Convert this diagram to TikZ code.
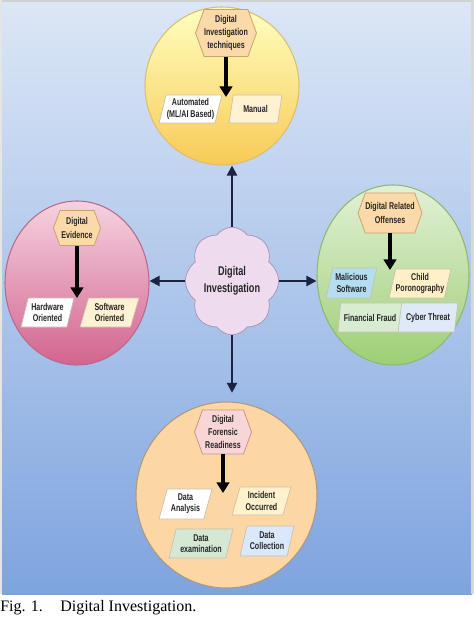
\documentclass[tikz,border=0pt]{standalone}
\usepackage{fontspec}
\setmainfont{Liberation Serif}
\newfontfamily\narb[FakeStretch=0.72]{Liberation Sans Bold}
\usetikzlibrary{shapes.geometric,shapes.symbols,arrows.meta}
\definecolor{bgtop}{HTML}{DCE7F6}
\definecolor{bgbot}{HTML}{7EA4DF}
\definecolor{navy}{HTML}{1C2340}
\definecolor{hexpeach}{HTML}{FCD9A8}
\definecolor{hexedge}{HTML}{C9A36A}
\definecolor{cream}{HTML}{FFF2D2}
\definecolor{paraedge}{HTML}{C8C0B0}
\def\u{0.75pt}
\tikzset{
  x=0.75pt, y=-0.75pt,
  bigcirc/.style={ellipse, draw, line width=0.8pt, inner sep=0},
  hexa/.style={signal, signal to=east and west, signal pointer angle=140,
    draw=hexedge, fill=hexpeach, line width=0.6pt, inner sep=0, align=center,
    font=\narb\fontsize{7.4}{10}\selectfont, text=black!85},
  para/.style={trapezium, trapezium left angle=72, trapezium right angle=108,
    trapezium stretches=true, draw=paraedge, line width=0.5pt, inner sep=0,
    align=center, font=\narb\fontsize{7.4}{8.4}\selectfont, text=black!85},
  inarrow/.style={line width=3pt, -{Triangle[width=9.5pt,length=8pt]}, black},
  conn/.style={line width=1.6pt, navy, -{Triangle[width=7.5pt,length=7.5pt]}},
}
\begin{document}
\begin{tikzpicture}
\useasboundingbox (0,0) rectangle (474,617);
% background
\shade[top color=bgtop, bottom color=bgbot] (2,0) rectangle (472,594);
\fill[black!18] (0,0) rectangle (474,2);
\fill[black!10] (0,0) rectangle (2,594);
\fill[black!15] (471,0) rectangle (474,594);

% top circle
\node[bigcirc, top color=yellow!25!white, bottom color={rgb,255:red,248;green,202;blue,86}, draw={rgb,255:red,222;green,190;blue,110},
  minimum width=154*\u, minimum height=158*\u] (c1) at (222,86) {};
\node[hexa, minimum width=55*\u, minimum height=47*\u] (h1) at (226,33) {Digital\\Investigation\\techniques};
\coordinate (t1) at (226,97);
\draw[inarrow] (h1.south) -- (h1.south |- t1);
\node[para, fill=white, minimum width=63*\u, minimum height=28*\u] (p1a) at (190.5,109) {Automated\\(ML/AI Based)};
\node[para, fill=cream, minimum width=53*\u, minimum height=28*\u] (p1b) at (255.5,109) {Manual};

% left circle
\node[bigcirc, top color={rgb,255:red,245;green,210;blue,224}, bottom color={rgb,255:red,211;green,100;blue,143}, draw={rgb,255:red,184;green,106;blue,140},
  minimum width=144*\u, minimum height=164*\u] (c2) at (77,283) {};
\node[hexa, minimum width=47*\u, minimum height=35*\u] (h2) at (77,228) {Digital\\Evidence};
\coordinate (t2) at (77,298);
\draw[inarrow] (h2.south) -- (h2.south |- t2);
\node[para, fill=white, minimum width=53*\u, minimum height=29*\u] (p2a) at (47.5,312.5) {Hardware\\Oriented};
\node[para, fill=cream, minimum width=59*\u, minimum height=29*\u] (p2b) at (109.5,312.5) {Software\\Oriented};

% right circle
\node[bigcirc, top color={rgb,255:red,226;green,241;blue,214}, bottom color={rgb,255:red,158;green,206;blue,118}, draw={rgb,255:red,144;green,184;blue,112},
  minimum width=152*\u, minimum height=180*\u] (c3) at (393,275) {};
\node[hexa, minimum width=54*\u, minimum height=40*\u] (h3) at (390,213) {Digital Related\\Offenses};
\coordinate (t3) at (390,270);
\draw[inarrow] (h3.south) -- (h3.south |- t3);
\node[para, fill={rgb,255:red,180;green,222;blue,240}, minimum width=51*\u, minimum height=30*\u] (p3a) at (351.5,283) {Malicious\\Software};
\node[para, fill={rgb,255:red,255;green,240;blue,200}, minimum width=56*\u, minimum height=29*\u] (p3b) at (420,283.5) {Child\\Poronography};
\node[para, fill={rgb,255:red,215;green,236;blue,208}, minimum width=64*\u, minimum height=29*\u] (p3c) at (370,317.5) {Financial Fraud};
\node[para, fill={rgb,255:red,222;green,234;blue,248}, minimum width=60*\u, minimum height=29*\u] (p3d) at (428,317.5) {Cyber Threat};

% bottom circle
\node[bigcirc, fill={rgb,255:red,252;green,214;blue,163}, draw={rgb,255:red,176;green,152;blue,128},
  minimum width=181*\u, minimum height=186*\u] (c4) at (226.5,495) {};
\node[hexa, fill={rgb,255:red,249;green,214;blue,214}, draw={rgb,255:red,200;green,144;blue,144}, minimum width=57*\u, minimum height=44*\u] (h4) at (223,432) {Digital\\Forensic\\Readiness};
\coordinate (t4) at (223,493);
\draw[inarrow] (h4.south) -- (h4.south |- t4);
\node[para, fill=white, minimum width=53*\u, minimum height=30*\u] (p4a) at (185.5,504) {Data\\Analysis};
\node[para, fill={rgb,255:red,255;green,242;blue,204}, minimum width=59*\u, minimum height=28*\u] (p4b) at (261.5,501) {Incident\\Occurred};
\node[para, fill={rgb,255:red,213;green,232;blue,212}, minimum width=64*\u, minimum height=29*\u] (p4c) at (201,543.5) {Data\\examination};
\node[para, fill={rgb,255:red,218;green,232;blue,252}, minimum width=54*\u, minimum height=30*\u] (p4d) at (267,541) {Data\\Collection};

% cloud
\node[cloud, cloud puffs=8, cloud puff arc=110, aspect=0.8, draw={rgb,255:red,168;green,152;blue,184}, fill={rgb,255:red,238;green,220;blue,238}, line width=0.6pt,
  minimum width=68*\u, minimum height=84*\u, inner sep=0, align=center,
  font=\narb\fontsize{9.5}{12.5}\selectfont, text=black!85] (cl) at (232,281) {Digital\\Investigation};

% connectors
\draw[conn] (cl.north) -- (cl.north |- c1.south);
\draw[conn] (cl.west) -- (c2.east |- cl.west);
\draw[conn] (cl.east) -- (c3.west |- cl.east);
\draw[conn, shorten >=6.5pt] (cl.south) -- (cl.south |- c4.north);

% caption
\node[anchor=base west, inner sep=0, font=\fontsize{12}{14}\selectfont] (cap1) at (0,611) {Fig. 1.};
\node[anchor=base west, inner sep=0, font=\fontsize{12}{14}\selectfont] (cap2) at (60,611) {Digital Investigation.};
\end{tikzpicture}
\end{document}
